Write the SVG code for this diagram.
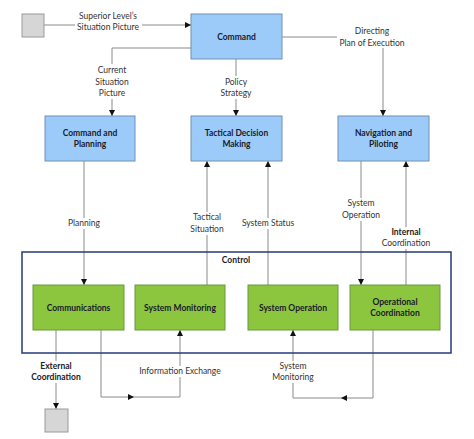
<svg xmlns="http://www.w3.org/2000/svg" width="474" height="439" viewBox="0 0 474 439">
<style>
.bg{fill:#fff}
.blue{fill:#9dcbf9;stroke:#6f90b5;stroke-width:1}
.green{fill:#8cc63f;stroke:#6b9640;stroke-width:1}
.gray{fill:#d6d6d6;stroke:#9a9a9a;stroke-width:1}
.ctrl{fill:none;stroke:#243a78;stroke-width:1.5}
.ln{fill:none;stroke:#8a8a8a;stroke-width:1}
.nt{font-family:Lato,"Liberation Sans",sans-serif;font-size:8.5px;font-weight:bold;fill:#1a1a2a;text-anchor:middle}
.lt{font-family:Lato,"Liberation Sans",sans-serif;font-size:8.5px;fill:#333;text-anchor:middle}
.lb{font-family:Lato,"Liberation Sans",sans-serif;font-size:8.5px;font-weight:bold;fill:#222;text-anchor:middle}
.wb{fill:#fff;stroke:none}
</style>
<defs>
<marker id="ah" markerWidth="6" markerHeight="6" refX="6" refY="3" orient="auto" markerUnits="userSpaceOnUse">
<path d="M0,0 L6,3 L0,6 Z" fill="#111"/>
</marker>
</defs>
<rect class="bg" x="0" y="0" width="474" height="439"/>

<g id="connectors">
<path class="ln" d="M44,25 H191" marker-end="url(#ah)"/>
<path class="ln" d="M191,48 H112 V116" marker-end="url(#ah)"/>
<path class="ln" d="M236,59 V116" marker-end="url(#ah)"/>
<path class="ln" d="M282,37 H383 V116" marker-end="url(#ah)"/>
<path class="ln" d="M84,161 V285" marker-end="url(#ah)"/>
<path class="ln" d="M207,285 V161" marker-end="url(#ah)"/>
<path class="ln" d="M268,285 V161" marker-end="url(#ah)"/>
<path class="ln" d="M361,161 V285" marker-end="url(#ah)"/>
<path class="ln" d="M406,285 V161" marker-end="url(#ah)"/>
<path class="ln" d="M56,330 V409" marker-end="url(#ah)"/>
<path class="ln" d="M101,330 V397 H134" marker-end="url(#ah)"/>
<path class="ln" d="M134,397 H180 V330" marker-end="url(#ah)"/>
<path class="ln" d="M373,330 V398 H341" marker-end="url(#ah)"/>
<path class="ln" d="M341,398 H293 V330" marker-end="url(#ah)"/>

<rect class="wb" x="75" y="12" width="67" height="21"/>
<text class="lt" x="108" y="19">Superior Level’s</text>
<text class="lt" x="108" y="30">Situation Picture</text>
<rect class="wb" x="92" y="64" width="40" height="35"/>
<text class="lt" x="112" y="73">Current</text>
<text class="lt" x="112" y="85">Situation</text>
<text class="lt" x="112" y="96">Picture</text>
<rect class="wb" x="220" y="76" width="32" height="23"/>
<text class="lt" x="236" y="85">Policy</text>
<text class="lt" x="236" y="96">Strategy</text>
<rect class="wb" x="337" y="26" width="70" height="22"/>
<text class="lt" x="372" y="34">Directing</text>
<text class="lt" x="372" y="46">Plan of Execution</text>
<rect class="wb" x="67" y="218" width="34" height="11"/>
<text class="lt" x="84" y="226">Planning</text>
<rect class="wb" x="189" y="212" width="36" height="23"/>
<text class="lt" x="207" y="220">Tactical</text>
<text class="lt" x="207" y="232">Situation</text>
<rect class="wb" x="242" y="218" width="52" height="11"/>
<text class="lt" x="268" y="226">System Status</text>
<rect class="wb" x="341" y="198" width="40" height="23"/>
<text class="lt" x="361" y="206">System</text>
<text class="lt" x="361" y="218">Operation</text>
<rect class="wb" x="381" y="227" width="51" height="22"/>
<text class="lb" x="406" y="235">Internal</text>
<text class="lt" x="406" y="246">Coordination</text>
<rect class="wb" x="30" y="361" width="52" height="22"/>
<text class="lb" x="56" y="369">External</text>
<text class="lb" x="56" y="380">Coordination</text>
<rect class="wb" x="138" y="366" width="84" height="11"/>
<text class="lt" x="180" y="374">Information Exchange</text>
<rect class="wb" x="272" y="361" width="42" height="22"/>
<text class="lt" x="293" y="369">System</text>
<text class="lt" x="293" y="380">Monitoring</text>
</g>

<g id="control">
<rect class="ctrl" x="22" y="252" width="429" height="101"/>
<text class="nt" x="236" y="263">Control</text>
</g>

<g id="src"><rect class="gray" x="22" y="14" width="22" height="23"/></g>
<g id="sink"><rect class="gray" x="45" y="409" width="23" height="23"/></g>

<g id="command">
<rect class="blue" x="191" y="14" width="91" height="45"/>
<text class="nt" x="236.5" y="40">Command</text>
</g>
<g id="command-planning">
<rect class="blue" x="45" y="116" width="90" height="45"/>
<text class="nt" x="90" y="136">Command and</text>
<text class="nt" x="90" y="147">Planning</text>
</g>
<g id="tactical">
<rect class="blue" x="191" y="116" width="91" height="45"/>
<text class="nt" x="236.5" y="136">Tactical Decision</text>
<text class="nt" x="236.5" y="147">Making</text>
</g>
<g id="navigation">
<rect class="blue" x="338" y="116" width="91" height="45"/>
<text class="nt" x="383.5" y="136">Navigation and</text>
<text class="nt" x="383.5" y="147">Piloting</text>
</g>
<g id="communications">
<rect class="green" x="33" y="285" width="91" height="45"/>
<text class="nt" x="78.5" y="311">Communications</text>
</g>
<g id="system-monitoring">
<rect class="green" x="135" y="285" width="90" height="45"/>
<text class="nt" x="180" y="311">System Monitoring</text>
</g>
<g id="system-operation">
<rect class="green" x="248" y="285" width="90" height="45"/>
<text class="nt" x="293" y="311">System Operation</text>
</g>
<g id="operational-coordination">
<rect class="green" x="350" y="285" width="90" height="45"/>
<text class="nt" x="395" y="305">Operational</text>
<text class="nt" x="395" y="316">Coordination</text>
</g>
</svg>
